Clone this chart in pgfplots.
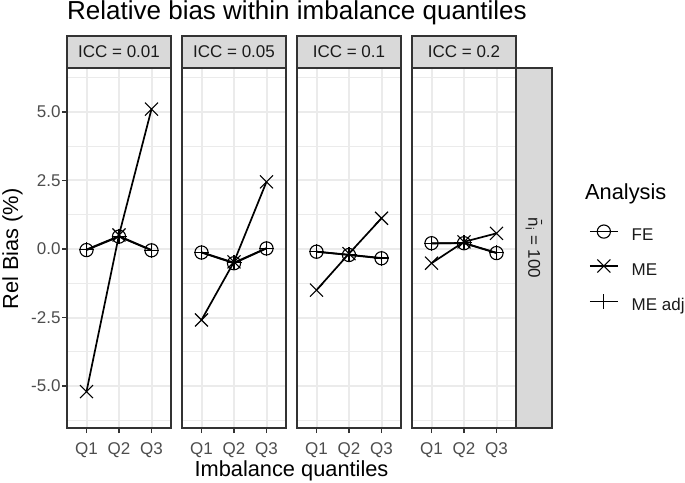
\documentclass[border=0pt]{standalone}
\usepackage{fontspec}
\setmainfont{Liberation Sans}
\usepackage{pgfplots}
\pgfplotsset{compat=1.18}
\definecolor{grid92}{HTML}{EBEBEB}
\definecolor{g20}{HTML}{333333}
\definecolor{g30}{HTML}{4D4D4D}
\definecolor{g85}{HTML}{D9D9D9}
\definecolor{g10}{HTML}{1A1A1A}
\pgfplotsset{
  panel/.style={
    width=104pt, height=360pt, scale only axis, anchor=north west,
    xmin=0.4, xmax=3.6, ymin=-6.53, ymax=6.6,
    xtick={1,2,3}, xticklabels={Q1,Q2,Q3},
    ytick={-5,-2.5,0,2.5,5},
    minor ytick={-6.25,-3.75,-1.25,1.25,3.75,6.25},
    grid=both,
    major grid style={grid92, line width=2pt},
    minor grid style={grid92, line width=1pt},
    axis line style={g20, line width=1.3pt},
    tick align=outside, xtick pos=lower, ytick pos=left,
    major tick length=5pt, minor tick length=0pt,
    tick style={g20, line width=1.3pt},
    minor tick style={draw=none},
    ticklabel style={font=\fontsize{17}{20}\selectfont, text=g30},
    xticklabel style={yshift=-6.5pt},
    yticklabel style={xshift=2pt},
    clip=false,
  },
  noy/.style={yticklabels={}, ytick style={draw=none}},
  fe/.style={black, line width=1.7pt, mark=o, mark size=6.6pt, mark options={line width=1.1pt, solid}},
  me/.style={black, line width=1.7pt, mark=x, mark size=9.2pt, mark options={line width=1.1pt, solid}},
  mea/.style={black, line width=1.7pt, mark=+, mark size=7.5pt, mark options={line width=1.1pt, solid}},
}
\begin{document}
\begin{tikzpicture}
\path[use as bounding box] (0,0) rectangle (685pt,-482pt);
% Panel 1
\begin{axis}[panel, name=a1, at={(67pt,-68pt)},
  yticklabels={-5.0,-2.5,0.0,2.5,5.0}]
\addplot[fe] coordinates {(1,-0.04) (2,0.45) (3,-0.05)};
\addplot[me] coordinates {(1,-5.2) (2,0.51) (3,5.1)};
\addplot[mea] coordinates {(1,-0.02) (2,0.47) (3,-0.04)};
\end{axis}
% Panel 2
\begin{axis}[panel, noy, name=a2, at={(182pt,-68pt)}]
\addplot[fe] coordinates {(1,-0.13) (2,-0.52) (3,0.02)};
\addplot[me] coordinates {(1,-2.59) (2,-0.47) (3,2.45)};
\addplot[mea] coordinates {(1,-0.12) (2,-0.5) (3,0.03)};
\end{axis}
% Panel 3
\begin{axis}[panel, noy, name=a3, at={(297pt,-68pt)}]
\addplot[fe] coordinates {(1,-0.1) (2,-0.22) (3,-0.34)};
\addplot[me] coordinates {(1,-1.5) (2,-0.17) (3,1.12)};
\addplot[mea] coordinates {(1,-0.1) (2,-0.21) (3,-0.33)};
\end{axis}
% Panel 4
\begin{axis}[panel, noy, name=a4, at={(412pt,-68pt)},
  legend style={at={(axis description cs:1.702,0.564)}, anchor=north west,
    draw=none, fill=none, inner sep=0pt, outer sep=0pt,
    row sep=15pt, column sep=13pt,
    nodes={inner sep=0pt, text height=12pt, text depth=4pt, font=\fontsize{17}{20}\selectfont, text=g10}},
  legend cell align=left,
  legend image code/.code={
    \draw[mark repeat=2, mark phase=2, yshift=5pt] plot coordinates {(0pt,0pt) (14pt,0pt) (28pt,0pt)};
  }]
\addplot[fe] coordinates {(1,0.21) (2,0.21) (3,-0.15)};
\addplot[me] coordinates {(1,-0.52) (2,0.26) (3,0.57)};
\addplot[mea] coordinates {(1,0.2) (2,0.22) (3,-0.14)};
\legend{FE, ME, ME adj}
\end{axis}
% strips
\foreach \n/\t in {a1/0.01, a2/0.05, a3/0.1, a4/0.2}{
  \draw[g20, fill=g85, line width=1.3pt] (\n.north west) rectangle ([yshift=32pt]\n.north east);
  \node[font=\fontsize{17}{20}\selectfont, text=g10] at ([yshift=16pt]\n.north) {ICC = \t};
}
\draw[g20, fill=g85, line width=1.3pt] (a4.north east) rectangle ([xshift=36pt]a4.south east);
\node[rotate=-90, font=\fontsize{17}{20}\selectfont, text=g10] at ([xshift=18pt]a4.east) {\=n\textsubscript{i} = 100};
% titles
\node[anchor=base west, font=\fontsize{26}{30}\selectfont, inner sep=0pt] at (67pt,-19pt) {Relative bias within imbalance quantiles};
\node[anchor=base, font=\fontsize{21.8}{26}\selectfont, inner sep=0pt] at (291.5pt,-476pt) {Imbalance quantiles};
\node[anchor=base, rotate=90, font=\fontsize{21.8}{26}\selectfont, inner sep=0pt] at (18pt,-249pt) {Rel Bias (\%)};
\node[anchor=base west, font=\fontsize{21.8}{26}\selectfont, inner sep=0pt] at (585pt,-199pt) {Analysis};
\end{tikzpicture}
\end{document}
